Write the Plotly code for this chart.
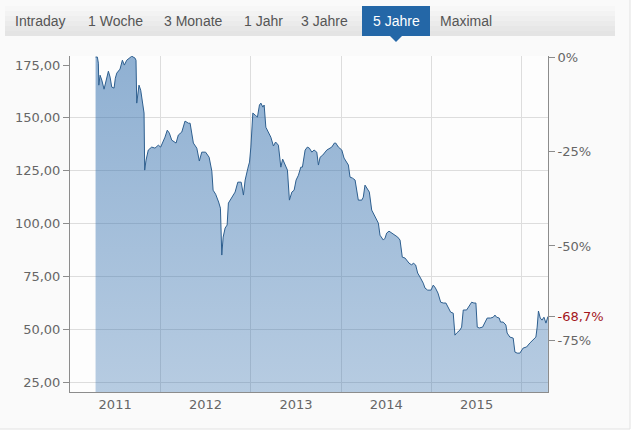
import plotly.graph_objects as go
import pandas as pd
import numpy as np

# ---- data (decimal year, price) ----
years = [2011.283, 2011.303, 2011.314, 2011.319, 2011.333, 2011.352, 2011.377, 2011.399, 2011.425, 2011.444,
         2011.462, 2011.488, 2011.502, 2011.518, 2011.554, 2011.580, 2011.602, 2011.628, 2011.665, 2011.684,
         2011.720, 2011.731, 2011.739, 2011.764, 2011.783, 2011.805, 2011.820, 2011.827, 2011.842, 2011.867,
         2011.905, 2011.941, 2011.978, 2012.004, 2012.027, 2012.052, 2012.077, 2012.100, 2012.126, 2012.174,
         2012.199, 2012.237, 2012.273, 2012.310, 2012.329, 2012.347, 2012.365, 2012.403, 2012.431, 2012.458,
         2012.500, 2012.539, 2012.569, 2012.583, 2012.611, 2012.644, 2012.664, 2012.679, 2012.694, 2012.716,
         2012.738, 2012.752, 2012.790, 2012.826, 2012.856, 2012.893, 2012.918, 2012.937, 2012.967, 2012.985,
         2013.000, 2013.022, 2013.048, 2013.073, 2013.095, 2013.111, 2013.133, 2013.147, 2013.166, 2013.195,
         2013.221, 2013.250, 2013.274, 2013.305, 2013.332, 2013.352, 2013.379, 2013.405, 2013.427, 2013.454,
         2013.479, 2013.501, 2013.527, 2013.553, 2013.571, 2013.601, 2013.626, 2013.648, 2013.675, 2013.700,
         2013.730, 2013.748, 2013.767, 2013.796, 2013.841, 2013.869, 2013.896, 2013.925, 2013.940, 2013.969,
         2014.007, 2014.032, 2014.080, 2014.098, 2014.126, 2014.154, 2014.173, 2014.190, 2014.228, 2014.245,
         2014.264, 2014.283, 2014.312, 2014.338, 2014.364, 2014.394, 2014.412, 2014.430, 2014.449, 2014.467,
         2014.486, 2014.504, 2014.530, 2014.560, 2014.596, 2014.626, 2014.652, 2014.677, 2014.707, 2014.732,
         2014.751, 2014.781, 2014.799, 2014.825, 2014.847, 2014.873, 2014.909, 2014.928, 2014.958, 2014.995,
         2015.020, 2015.044, 2015.072, 2015.102, 2015.131, 2015.160, 2015.186, 2015.212, 2015.241, 2015.260,
         2015.279, 2015.315, 2015.334, 2015.352, 2015.389, 2015.418, 2015.445, 2015.470, 2015.492, 2015.507,
         2015.529, 2015.566, 2015.592, 2015.617, 2015.655, 2015.684, 2015.703, 2015.721, 2015.750, 2015.765,
         2015.794, 2015.824, 2015.838, 2015.868, 2015.905, 2015.924, 2015.949, 2015.979, 2016.015, 2016.053,
         2016.090, 2016.119, 2016.156, 2016.170, 2016.184, 2016.204, 2016.223, 2016.245, 2016.267, 2016.289]
prices = [178.8, 178.8, 175.9, 165.5, 170.2, 167.9, 163.6, 166.9, 172.1, 169.3,
          164.6, 164.1, 168.8, 171.2, 173.1, 177.3, 175.0, 177.3, 178.8, 179.2,
          178.3, 177.3, 157.0, 165.5, 163.1, 157.0, 152.3, 125.3, 130.0, 134.8,
          136.2, 135.7, 137.1, 136.2, 138.1, 140.9, 144.2, 142.8, 139.5, 138.1,
          141.9, 143.3, 148.5, 147.5, 147.5, 141.9, 138.1, 135.7, 129.6, 133.8,
          133.8, 131.4, 124.8, 115.8, 113.9, 110.2, 107.3, 85.1, 93.6, 97.9,
          99.3, 109.7, 112.1, 114.9, 119.6, 119.6, 113.5, 120.6, 126.2, 129.1,
          136.2, 152.3, 151.3, 150.4, 156.1, 157.0, 155.1, 156.1, 145.6, 143.3,
          140.9, 136.7, 138.6, 137.1, 126.7, 130.5, 127.7, 125.3, 111.1, 114.9,
          115.8, 120.6, 122.9, 126.7, 126.7, 134.8, 136.2, 135.7, 133.8, 134.8,
          133.8, 127.7, 131.4, 132.4, 134.8, 135.7, 136.2, 138.1, 138.1, 136.2,
          134.8, 131.0, 127.7, 122.0, 121.5, 120.6, 114.9, 111.1, 111.1, 112.5,
          118.2, 116.8, 114.9, 106.4, 104.0, 101.6, 100.2, 94.5, 93.1, 92.2,
          93.1, 95.5, 96.4, 95.5, 94.5, 93.6, 92.2, 84.1, 83.7, 82.2,
          81.3, 80.4, 81.3, 80.4, 76.6, 74.7, 71.8, 69.5, 68.5, 68.5,
          70.9, 69.5, 67.1, 62.8, 62.4, 62.4, 60.0, 58.1, 57.6, 47.2,
          48.2, 49.6, 51.0, 59.1, 59.1, 61.4, 62.8, 62.4, 62.4, 51.0,
          50.6, 51.0, 53.4, 55.3, 55.3, 55.7, 56.7, 55.7, 55.3, 53.4,
          53.4, 52.0, 48.2, 46.3, 45.8, 39.2, 38.7, 38.7, 41.1, 41.6,
          43.5, 44.9, 46.3, 51.0, 58.6, 55.3, 54.3, 55.7, 52.9, 56.0]

tabs = ["Intraday", "1 Woche", "3 Monate", "1 Jahr", "3 Jahre", "5 Jahre", "Maximal"]
selected_tab = "5 Jahre"
price_ticks = [25, 50, 75, 100, 125, 150, 175]
grid_prices = [25, 50, 75, 100, 125, 150]
pct_ticks = [0, -25, -50, -75]
x_range = ["2011-01-01", "2016-04-16"]
y_range = [20.3, 179.3]


def to_date(t):
    y = int(np.floor(t))
    a = pd.Timestamp(year=y, month=1, day=1)
    b = pd.Timestamp(year=y + 1, month=1, day=1)
    return a + (b - a) * (t - y)


dates = [to_date(t) for t in years]
p0 = prices[0]
pct = [(p / p0 - 1) * 100 for p in prices]
cur = pct[-1]
cur_txt = f"{cur:.1f}".replace(".", ",") + "%"
y2_range = [(v / p0 - 1) * 100 for v in y_range]

fig = go.Figure()
fig.add_trace(go.Scatter(
    x=dates, y=prices, mode="lines",
    line=dict(color="#2e5f8f", width=1),
    fill="tozeroy",
    fillgradient=dict(type="vertical", start=y_range[0], stop=y_range[1],
                      colorscale=[[0, "rgba(46,108,172,0.34)"], [1, "rgba(46,108,172,0.53)"]]),
    hoverinfo="skip", showlegend=False))
fig.add_trace(go.Scatter(x=dates, y=pct, yaxis="y2", mode="lines",
                         line=dict(width=0, color="rgba(0,0,0,0)"),
                         hoverinfo="skip", showlegend=False))

# pixel helpers for decorations (plot area is 70..548 x 56..392)
PL, PR, PT, PB = 70, 548, 56, 392
def px(x):
    return (x - PL) / (PR - PL)
def py(y):
    return (PB - y) / (PB - PT)

shapes = []
# widget border + outside white
shapes.append(dict(type="rect", xref="paper", yref="paper", x0=px(630), x1=px(640), y0=py(-5), y1=py(440),
                   fillcolor="white", line=dict(width=0), layer="below"))
shapes.append(dict(type="rect", xref="paper", yref="paper", x0=px(-5), x1=px(640), y0=py(429), y1=py(440),
                   fillcolor="white", line=dict(width=0), layer="below"))
shapes.append(dict(type="line", xref="paper", yref="paper", x0=px(630), x1=px(630), y0=py(-5), y1=py(429),
                   line=dict(color="#e2e2e2", width=1)))
shapes.append(dict(type="line", xref="paper", yref="paper", x0=px(-5), x1=px(630), y0=py(429), y1=py(429),
                   line=dict(color="#e2e2e2", width=1)))
# tab bar with vertical gradient bands
band_cols = ["#f7f7f7", "#f3f3f3", "#efefef", "#ebebeb", "#e7e7e7", "#e4e4e4"]
top, bot = 6, 36
h = (bot - top) / len(band_cols)
for i, c in enumerate(band_cols):
    shapes.append(dict(type="rect", xref="paper", yref="paper", x0=px(5), x1=px(615),
                       y0=py(top + (i + 1) * h), y1=py(top + i * h), fillcolor=c, line=dict(width=0)))
# selected tab
sel_l, sel_r = 362, 430
shapes.append(dict(type="rect", xref="paper", yref="paper", x0=px(sel_l), x1=px(sel_r), y0=py(36), y1=py(6),
                   fillcolor="#2467a7", line=dict(width=0)))
mid = (sel_l + sel_r) / 2
shapes.append(dict(type="path", xref="paper", yref="paper",
                   path=f"M {px(mid-6)},{py(36)} L {px(mid+6)},{py(36)} L {px(mid)},{py(42)} Z",
                   fillcolor="#2467a7", line=dict(width=0)))

tab_centers = [40, 115, 193, 263, 324, 396, 466]
annotations = []
for name, cx in zip(tabs, tab_centers):
    annotations.append(dict(xref="paper", yref="paper", x=px(cx), y=py(21), text=name, showarrow=False,
                            xanchor="center", yanchor="middle",
                            font=dict(family="Liberation Sans", size=14,
                                      color="white" if name == selected_tab else "#555555")))

axis_col = "#8c8c8c"
grid_col = "#dddddd"
tick_font = dict(family="DejaVu Sans", size=13, color="#666666")

fig.update_layout(
    width=634, height=434,
    margin=dict(l=PL, r=634 - PR, t=PT, b=434 - PB),
    paper_bgcolor="#fafafa", plot_bgcolor="#fdfdfd",
    separators=",.",
    showlegend=False,
    shapes=shapes, annotations=annotations,
    xaxis=dict(type="date", range=x_range, tick0="2011-01-01", dtick="M12", ticklabelmode="period",
               tickformat="%Y", showgrid=True, gridcolor=grid_col, gridwidth=1,
               showline=True, linecolor=axis_col, linewidth=1, ticks="", tickfont=tick_font,
               zeroline=False),
    yaxis=dict(range=y_range, tickmode="array", tickvals=price_ticks, tickformat=".2f",
               ticks="outside", ticklen=6, tickcolor=axis_col, showline=True, linecolor=axis_col,
               showgrid=False, zeroline=False, tickfont=tick_font),
    yaxis2=dict(range=y2_range, overlaying="y", side="right", tickmode="array",
                tickvals=pct_ticks + [cur],
                ticktext=[f"{v}%" for v in pct_ticks] + [f"<span style='color:#a3161c'>{cur_txt}</span>"],
                ticks="outside", ticklen=6, tickcolor=axis_col, showline=True, linecolor=axis_col,
                showgrid=False, zeroline=False, tickfont=tick_font,
                minor=dict(tickmode="array", tickvals=[(v / p0 - 1) * 100 for v in grid_prices],
                           showgrid=True, gridcolor=grid_col, ticks="")),
)

fig.write_html("out.html", config={"displayModeBar": False},
               post_script="document.body.style.margin='0';document.body.style.overflow='hidden';")
